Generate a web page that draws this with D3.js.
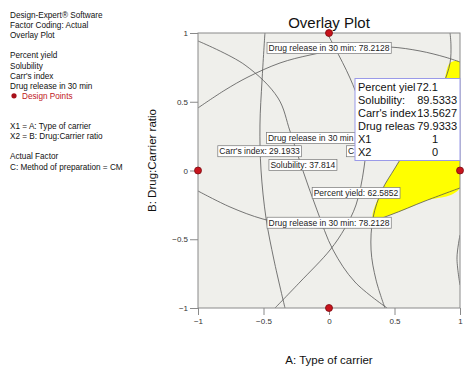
<!DOCTYPE html>
<html>
<head>
<meta charset="utf-8">
<script src="https://cdn.jsdelivr.net/npm/d3@7"></script>
<style>
  body { margin: 0; background: #fff; }
  text { font-family: "Liberation Sans", Arial, sans-serif; }
</style>
</head>
<body>
<svg id="chart"></svg>
<script>
// ticks
const xTicks = [-1, -0.5, 0, 0.5, 1];
const yTicks = [-1, -0.5, 0, 0.5, 1];

// design points (A, B)
const designA = [-1, 0, 0, 1];
const designB = [0, 1, -1, 0];

// contour lines, [A, B]
const carrsLeft = [[-0.489, 1], [-0.511, 0.658], [-0.527, 0.331], [-0.519, 0.004], [-0.481, -0.345], [-0.420, -0.651], [-0.336, -1]];
const carrsRight = [[0.427, -1], [0.359, -0.796], [0.321, -0.578], [0.336, -0.345], [0.405, -0.142], [0.504, 0.018], [0.634, 0.222], [0.771, 0.44], [0.870, 0.622], [0.924, 0.782], [0.931, 0.913], [0.924, 1]];
const solubilityLine = [[-1, 0.942], [-0.641, 0.767], [-0.389, 0.527], [-0.298, 0.287], [-0.206, 0.018], [-0.092, -0.287], [0.031, -0.578], [0.198, -0.811], [0.443, -1]];
const yieldLine = [[-0.015, 1], [0.046, 0.891], [0.160, 0.673], [0.237, 0.476], [0.282, 0.222], [0.267, 0.018], [0.206, -0.251], [0.122, -0.418], [0.008, -0.578], [-0.221, -0.811], [-0.412, -1]];
const releaseUpper = [[-1, 0.455], [-0.794, 0.585], [-0.618, 0.68], [-0.374, 0.782], [-0.145, 0.84], [0.160, 0.891], [0.466, 0.898], [0.695, 0.869], [0.885, 0.825], [1, 0.789]];
const releaseLower = [[-1, -0.149], [-0.756, -0.265], [-0.504, -0.353], [-0.221, -0.404], [0, -0.418], [0.237, -0.396], [0.466, -0.324], [0.733, -0.222], [1, -0.127]];
const edgeLine = [[1, -0.469], [0.977, -0.636], [1, -0.833]];

// contour labels (the two under the flag box show only their visible part)
const labelText = ["Drug release in 30 min: 78.2128", "Drug release in 30 min", "Carr's index: 29.1933", "C", "Solubility: 37.814", "Percent yield: 62.5852", "Drug release in 30 min: 78.2128"];
const labelA = [0.0, -0.14, -0.53, 0.168, -0.2, 0.206, 0.0];
const labelB = [0.89, 0.236, 0.14, 0.14, 0.04, -0.164, -0.38];

// flag box
const tipLabels = ["Percent yiel", "Solubility:", "Carr's index", "Drug releas", "X1", "X2"];
const tipValues = ["72.1", "89.5333", "13.5627", "79.9333", "1", "0"];

// side notes
const infoLines = ["Design-Expert\u00ae Software", "Factor Coding: Actual", "Overlay Plot", "",
  "Percent yield", "Solubility", "Carr's index", "Drug release in 30 min", "Design Points", "", "",
  "X1 = A: Type of carrier", "X2 = B: Drug:Carrier ratio", "", "Actual Factor", "C: Method of preparation = CM"];

const W = 474, H = 371;
const svg = d3.select("#chart").attr("width", W).attr("height", H);

const x = d3.scaleLinear().domain([-1, 1]).range([198, 460]);
const y = d3.scaleLinear().domain([-1, 1]).range([308, 33]);

// left notes
svg.append("g").selectAll("text")
  .data(infoLines)
  .join("text")
  .attr("x", (d, i) => i === 8 ? 22 : 10)
  .attr("y", (d, i) => 18 + i * 10.1)
  .attr("font-size", 8.2)
  .attr("fill", (d, i) => i === 8 ? "#c0161a" : "#111")
  .text(d => d);
svg.append("circle").attr("cx", 14).attr("cy", 18 + 8 * 10.1 - 3).attr("r", 2.6)
  .attr("fill", "#a8101a");

// title
svg.append("text").attr("x", x(0)).attr("y", 28).attr("text-anchor", "middle")
  .attr("font-size", 15).attr("fill", "#111").text("Overlay Plot");

// plot background
svg.append("rect").attr("x", x(-1)).attr("y", y(1))
  .attr("width", x(1) - x(-1)).attr("height", y(-1) - y(1))
  .attr("fill", "#efefeb");

svg.append("clipPath").attr("id", "plotclip").append("rect")
  .attr("x", x(-1)).attr("y", y(1))
  .attr("width", x(1) - x(-1)).attr("height", y(-1) - y(1));

const plot = svg.append("g").attr("clip-path", "url(#plotclip)");

// yellow region: right carr's contour, upper drug release end, right edge, lower drug release
let region = carrsRight.filter(p => p[1] >= -0.35 && p[1] <= 0.79)
  .concat(releaseUpper.filter(p => p[0] >= 0.99))
  .concat(releaseLower.filter(p => p[0] >= 0.4).reverse());
plot.append("path")
  .attr("d", d3.line().x(p => x(p[0])).y(p => y(p[1])).curve(d3.curveCatmullRomClosed)(region))
  .attr("fill", "#ffff00").attr("stroke", "none");

const line = d3.line().x(p => x(p[0])).y(p => y(p[1])).curve(d3.curveCatmullRom);
plot.selectAll("path.contour")
  .data([carrsLeft, carrsRight, solubilityLine, yieldLine, releaseUpper, releaseLower, edgeLine])
  .join("path")
  .attr("class", "contour")
  .attr("d", line)
  .attr("fill", "none").attr("stroke", "#555").attr("stroke-width", 0.8);

// contour labels
const lab = plot.selectAll("g.lab")
  .data(labelText)
  .join("g")
  .attr("class", "lab")
  .attr("transform", (d, i) => `translate(${x(labelA[i])},${y(labelB[i])})`);
lab.append("rect");
lab.append("text")
  .attr("text-anchor", "middle").attr("dy", "0.35em")
  .attr("font-size", 8.5).attr("fill", "#222")
  .text(d => d);
lab.each(function () {
  const g = d3.select(this);
  const b = g.select("text").node().getBBox();
  g.select("rect").attr("x", b.x - 1.5).attr("y", b.y - 0.5)
    .attr("width", b.width + 3).attr("height", b.height + 1)
    .attr("fill", "#fff").attr("stroke", "#777").attr("stroke-width", 0.7);
});

// frame
svg.append("rect").attr("x", x(-1)).attr("y", y(1))
  .attr("width", x(1) - x(-1)).attr("height", y(-1) - y(1))
  .attr("fill", "none").attr("stroke", "#8a8a8a").attr("stroke-width", 1);

// axes
const xAxis = svg.append("g").attr("transform", `translate(0,${y(-1)})`)
  .call(d3.axisBottom(x).tickValues(xTicks).tickSize(7).tickPadding(3).tickFormat(d3.format("")));
const yAxis = svg.append("g").attr("transform", `translate(${x(-1)},0)`)
  .call(d3.axisLeft(y).tickValues(yTicks).tickSize(8).tickPadding(2).tickFormat(d3.format("")));
[xAxis, yAxis].forEach(a => {
  a.select(".domain").remove();
  a.selectAll("line").attr("stroke", "#8a8a8a");
  a.selectAll("text").attr("font-size", 8).attr("fill", "#333")
    .attr("font-family", "'Liberation Sans', Arial, sans-serif");
});

svg.append("text").attr("x", x(0)).attr("y", 364).attr("text-anchor", "middle")
  .attr("font-size", 11.5).attr("fill", "#111").text("A: Type of carrier");
svg.append("text").attr("transform", `translate(156,${(y(1) + y(-1)) / 2 - 10}) rotate(-90)`)
  .attr("text-anchor", "middle").attr("font-size", 11.5).attr("fill", "#111")
  .text("B: Drug:Carrier ratio");

// design points
svg.append("g").selectAll("circle")
  .data(designA)
  .join("circle")
  .attr("cx", d => x(d))
  .attr("cy", (d, i) => y(designB[i]))
  .attr("r", 3.5)
  .attr("fill", "#c8141c").attr("stroke", "#7a0a10").attr("stroke-width", 0.8);

// flag for point A=1, B=0
const boxW = 105, boxH = 82;
const bx = x(1) - boxW, by = y(0) - 10 - boxH;
const tip = svg.append("g");
tip.append("rect").attr("x", bx).attr("y", by).attr("width", boxW).attr("height", boxH)
  .attr("fill", "#fff").attr("stroke", "#9a9ae8").attr("stroke-width", 1);
tip.selectAll("text.k").data(tipLabels).join("text").attr("class", "k")
  .attr("x", bx + 3).attr("y", (d, i) => by + 12 + i * 13.1)
  .attr("font-size", 11).attr("fill", "#111").text(d => d);
tip.selectAll("text.v").data(tipValues).join("text").attr("class", "v")
  .attr("x", d => d.length > 4 ? bx + boxW - 3 : bx + boxW - 22)
  .attr("y", (d, i) => by + 12 + i * 13.1)
  .attr("text-anchor", "end")
  .attr("font-size", 11).attr("fill", "#111").text(d => d);
</script>
</body>
</html>
